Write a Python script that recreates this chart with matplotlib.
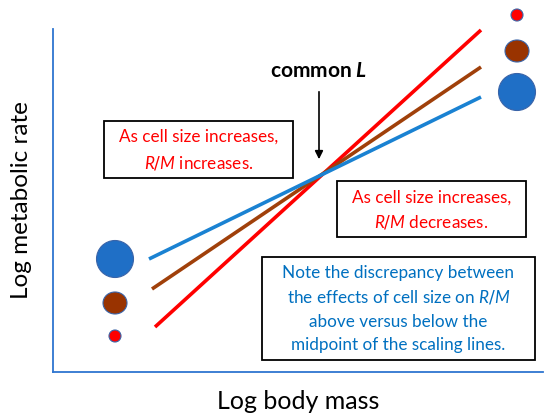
import matplotlib
matplotlib.use("Agg")
import matplotlib.pyplot as plt
from matplotlib.patches import Ellipse, Rectangle

plt.rcParams['font.family'] = ['Lato', 'DejaVu Sans']
plt.rcParams['mathtext.fontset'] = 'custom'
plt.rcParams['mathtext.it'] = 'Lato:italic'
plt.rcParams['mathtext.bf'] = 'Lato:bold'
plt.rcParams['mathtext.bfit'] = 'Lato:bold:italic'

# Scaling lines (log mass -> log metabolic rate), arbitrary units
line_names = ["small", "medium", "large"]
line_x = {"small": [102, 428], "medium": [99, 428], "large": [96, 428]}
line_y = {"small": [45, 342], "medium": [83, 305], "large": [113, 275]}
line_colors = {"small": "#ff0000", "medium": "#a0400a", "large": "#1a82d2"}

# Cell-size circles (x, y, width, height)
circle_x_left = 62
circle_x_right = 464
circle_y_left = {"large": 113, "medium": 69, "small": 36}
circle_y_right = {"large": 280, "medium": 321, "small": 357}
circle_w = {"large": 37, "medium": 24, "small": 12}
circle_h = {"large": 37, "medium": 22, "small": 12}
circle_fill = {"large": "#1f6fc6", "medium": "#993300", "small": "#ff0000"}

fig = plt.figure(figsize=(5.5, 4.18), dpi=100)
ax = fig.add_axes([53/550, 46/418, 490/550, 343/418])
ax.set_xlim(0, 490)
ax.set_ylim(0, 343)
for s in ["top", "right"]:
    ax.spines[s].set_visible(False)
for s in ["left", "bottom"]:
    ax.spines[s].set_color("#2e75d0")
    ax.spines[s].set_linewidth(1.3)
ax.set_xticks([])
ax.set_yticks([])

for n in line_names:
    ax.plot(line_x[n], line_y[n], color=line_colors[n], lw=2.6,
            solid_capstyle="butt", clip_on=False, zorder=3)

for n in ["large", "medium", "small"]:
    for cx, cy in [(circle_x_left, circle_y_left[n]), (circle_x_right, circle_y_right[n])]:
        ax.add_patch(Ellipse((cx, cy), circle_w[n], circle_h[n],
                             facecolor=circle_fill[n], edgecolor="#3a64a8",
                             lw=0.8, clip_on=False, zorder=4))

fs = 12.3
def box(x0, x1, y0, y1):
    ax.add_patch(Rectangle((x0, y0), x1 - x0, y1 - y0, facecolor="white",
                           edgecolor="black", lw=1.3, clip_on=False, zorder=5))

# Box 1
box(51, 240, 194, 251)
ax.text(145.5, 235, "As cell size increases,", color="#ff0000", fontsize=fs,
        ha="center", va="center", zorder=6)
ax.text(145.5, 209, r"$\mathit{R/M}$ increases.", color="#ff0000", fontsize=fs,
        ha="center", va="center", zorder=6)

# Box 2
box(284, 473, 135, 191)
ax.text(378.5, 174, "As cell size increases,", color="#ff0000", fontsize=fs,
        ha="center", va="center", zorder=6)
ax.text(378.5, 150, r"$\mathit{R/M}$ decreases.", color="#ff0000", fontsize=fs,
        ha="center", va="center", zorder=6)

# Box 3
box(209, 482, 12, 115)
note = ["Note the discrepancy between",
        r"the effects of cell size on $\mathit{R/M}$",
        "above versus below the",
        "midpoint of the scaling lines."]
for yy, t in zip([99, 75, 50, 27], note):
    ax.text(345.5, yy, t, color="#0070c0", fontsize=fs, ha="center",
            va="center", zorder=6)

# common L
ax.text(266, 301, r"common $\mathbfit{L}$", fontsize=15, fontweight="bold",
        ha="center", va="center", zorder=6)
ax.annotate("", xy=(266, 210), xytext=(266, 283),
            arrowprops=dict(arrowstyle="-|>", color="black", lw=1.2,
                            mutation_scale=12), zorder=6)

ax.set_xlabel("Log body mass", fontsize=18, labelpad=13)
ax.set_ylabel("Log metabolic rate", fontsize=17.5, labelpad=15)

fig.savefig("out.png", dpi=100)
